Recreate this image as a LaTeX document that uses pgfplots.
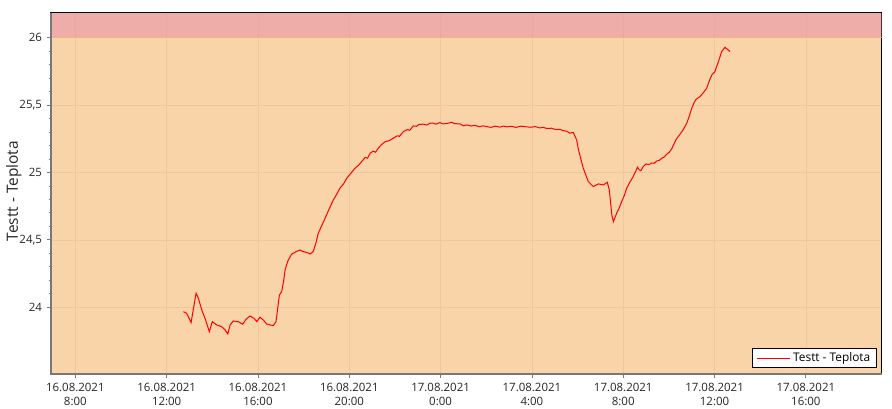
\documentclass[border=0pt]{standalone}
\usepackage{fontspec}
\setmainfont{Open Sans}
\usepackage{pgfplots}
\usepackage{pgfplotstable}
\pgfplotsset{compat=1.18}
\definecolor{bgorange}{RGB}{249,212,168}
\definecolor{bandred}{RGB}{231,136,172}
\definecolor{gridc}{RGB}{236,199,160}
\definecolor{axgray}{RGB}{120,120,120}
\definecolor{edgeorange}{RGB}{246,178,130}

\pgfplotstableread{
x y
12.73 23.967
12.88 23.955
13.07 23.886
13.29 24.104
13.39 24.067
13.54 23.980
13.68 23.918
13.87 23.819
14.00 23.893
14.19 23.869
14.41 23.856
14.56 23.832
14.68 23.802
14.78 23.869
14.92 23.898
15.14 23.893
15.33 23.874
15.48 23.911
15.65 23.935
15.83 23.918
15.95 23.893
16.09 23.926
16.23 23.906
16.38 23.876
16.53 23.869
16.67 23.864
16.79 23.893
16.94 24.091
17.04 24.116
17.12 24.190
17.19 24.277
17.26 24.318
17.33 24.351
17.48 24.395
17.60 24.405
17.70 24.415
17.84 24.425
17.95 24.415
18.06 24.410
18.18 24.404
18.28 24.395
18.42 24.412
18.54 24.477
18.64 24.549
18.78 24.600
18.94 24.660
19.10 24.722
19.30 24.796
19.45 24.838
19.59 24.883
19.75 24.915
19.89 24.957
20.05 24.990
20.25 25.031
20.40 25.052
20.54 25.080
20.70 25.112
20.80 25.105
20.91 25.142
21.05 25.158
21.15 25.150
21.27 25.180
21.40 25.204
21.57 25.228
21.75 25.236
21.93 25.254
22.10 25.272
22.20 25.268
22.37 25.303
22.55 25.318
22.65 25.312
22.80 25.345
22.95 25.342
23.05 25.356
23.24 25.358
23.40 25.352
23.55 25.366
23.68 25.365
23.80 25.358
23.97 25.370
24.10 25.360
24.30 25.364
24.49 25.372
24.60 25.362
24.85 25.360
25.00 25.346
25.14 25.352
25.35 25.344
25.50 25.350
25.70 25.338
25.85 25.346
26.02 25.340
26.20 25.334
26.40 25.343
26.60 25.336
26.75 25.344
26.90 25.338
27.10 25.342
27.30 25.334
27.50 25.343
27.77 25.338
27.95 25.335
28.15 25.340
28.35 25.330
28.50 25.334
28.65 25.326
28.85 25.328
29.05 25.318
29.20 25.320
29.38 25.310
29.52 25.306
29.67 25.291
29.81 25.297
29.96 25.241
30.04 25.167
30.25 25.031
30.47 24.932
30.69 24.895
30.91 24.915
31.13 24.907
31.30 24.927
31.39 24.870
31.50 24.685
31.57 24.635
31.71 24.697
31.82 24.735
31.93 24.783
32.05 24.830
32.15 24.883
32.28 24.925
32.42 24.964
32.55 25.010
32.62 25.039
32.70 25.020
32.77 25.013
32.88 25.045
33.00 25.063
33.12 25.058
33.25 25.070
33.35 25.068
33.47 25.085
33.58 25.090
33.69 25.105
33.80 25.115
33.90 25.135
34.02 25.150
34.12 25.174
34.22 25.210
34.33 25.249
34.45 25.275
34.56 25.300
34.67 25.330
34.78 25.365
34.90 25.420
35.00 25.476
35.10 25.515
35.17 25.538
35.27 25.552
35.36 25.562
35.50 25.590
35.66 25.625
35.77 25.680
35.88 25.723
36.02 25.748
36.10 25.790
36.17 25.822
36.31 25.896
36.46 25.929
36.50 25.920
36.56 25.914
36.68 25.896
}\tempdata

\begin{document}
\begin{tikzpicture}
\useasboundingbox (-38pt,-26.25pt) rectangle (631pt,280.5pt);
\begin{axis}[
  at={(0pt,0pt)}, anchor=south west,
  scale only axis, width=623.25pt, height=271pt,
  xmin=6.92, xmax=43.32, ymin=23.505, ymax=26.185,
  axis background/.style={fill=bgorange},
  axis line style={black, line width=0.6pt},
  xtick={8,12,16,20,24,28,32,36,40},
  xticklabels={16.08.2021\\8:00,16.08.2021\\12:00,16.08.2021\\16:00,16.08.2021\\20:00,17.08.2021\\0:00,17.08.2021\\4:00,17.08.2021\\8:00,17.08.2021\\12:00,17.08.2021\\16:00},
  xticklabel style={align=center, font=\fontsize{8.6}{11}\selectfont, text=black!85},
  ytick={24,24.5,25,25.5,26},
  yticklabels={24,{24,5},25,{25,5},26},
  yticklabel style={font=\fontsize{8.6}{11}\selectfont, text=black!85},
  minor y tick num=4,
  grid=major,
  major grid style={gridc, line width=0.5pt},
  tick pos=left, tick align=outside,
  major tick length=3pt, minor tick length=1.6pt,
  tick style={axgray, line width=0.6pt},
  every axis y label/.style={at={(axis description cs:0,0.506)}, xshift=-27.7pt, rotate=90, anchor=center, font=\fontsize{11.6}{13}\selectfont, text=black!85},
  ylabel={Testt - Teplota},
  legend style={at={(1,0)}, anchor=south east, xshift=-3.75pt, yshift=4.3pt,
    draw=black, fill=white, font=\fontsize{8.9}{10}\selectfont, inner xsep=2.5pt, inner ysep=1pt, line width=0.6pt},
  legend cell align=left,
  legend image code/.code={\draw[#1] (0pt,0pt) -- (25pt,0pt);},
]
\addplot[draw=none, fill=bandred, fill opacity=0.5, forget plot] coordinates {(6.92,26) (43.32,26) (43.32,26.185) (6.92,26.185)} -- cycle;
\addplot[edgeorange, line width=0.7pt, forget plot] coordinates {(6.92,26) (43.32,26)};
\addplot[red, line width=0.75pt] table[x=x,y=y] {\tempdata};
\addlegendentry{Testt - Teplota}
\end{axis}
\draw[axgray, line width=1.4pt] (current axis.north west) -- (current axis.south west) -- (current axis.south east);
\end{tikzpicture}
\end{document}
